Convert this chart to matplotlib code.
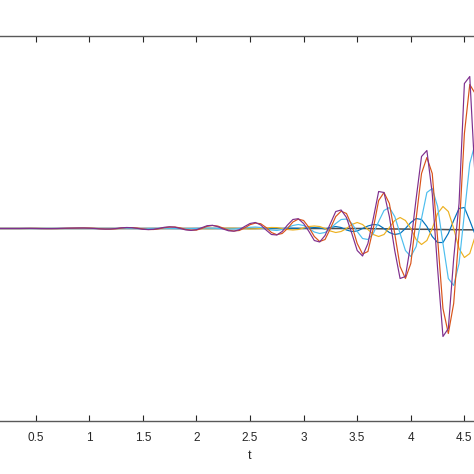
import numpy as np, matplotlib
matplotlib.use("Agg"); import matplotlib.pyplot as plt

plt.rcParams["font.family"] = ["Liberation Sans", "DejaVu Sans"]

# time grid of the samples
t = np.round(np.arange(0, 4.6001, 0.05), 2)

purple = [0, 0, 0, 0, 0, 0, 0, 0,
          0.1, 0.1, 0, -0.1, -0.1, -0.1, 0, 0.2,
          0.3, 0.4, 0.5, 0.5, 0.3, 0, -0.4, -0.6,
          -0.5, 0, 0.7, 1.0, 0.8, 0.1, -0.8, -1.1,
          -0.8, 0.1, 1.2, 1.7, 1.3, 0, -1.4, -1.9,
          -1.2, 0.8, 2.8, 3.2, 1.8, -0.5, -2.3, -2.7,
          -1.2, 2, 5, 6, 3.5, -1.5, -6, -6.5,
          -3, 3.5, 9, 9.8, 5, -3, -12, -13.5,
          -7, 5, 17, 18.5, 11, -5, -22, -27.5,
          -15, 10, 37, 36, 12, -22, -50, -48,
          -15, 30, 72, 78, 35, -40, -108, -100,
          -30, 25, 145, 152, 50]
orange = [0, 0, 0, 0, 0, 0, 0, 0,
          0, 0.1, 0.1, 0, -0.1, -0.1, -0.1, 0,
          0.2, 0.3, 0.4, 0.5, 0.4, 0.2, -0.2, -0.5,
          -0.6, -0.3, 0.4, 0.9, 0.9, 0.4, -0.4, -1.0,
          -1.0, -0.3, 0.8, 1.5, 1.5, 0.6, -0.9, -1.7,
          -1.6, 0, 2.2, 3.0, 2.4, 0.4, -1.7, -2.5,
          -2, 0.5, 3.8, 5.4, 4.8, 1, -4, -6.2,
          -5, 0, 6.5, 9.4, 8, 1, -8, -13,
          -11, 0, 12, 17.3, 15, 3, -15, -25.5,
          -23, 0, 28, 36, 25, -5, -38, -50,
          -35, 10, 55, 71, 55, -10, -80, -105,
          -75, -5, 95, 144, 135]
cyan = [0, 0, 0, 0, 0, 0, 0, 0,
        0, 0, 0, 0, 0, 0, 0, 0,
        0, 0, 0, 0, 0, 0, 0, 0,
        0, 0, 0.1, 0.1, 0, -0.1, -0.1, 0,
        0.1, 0.2, 0.2, 0.1, -0.1, -0.2, -0.2, -0.1,
        0.1, 0.3, 0.4, 0.3, 0, -0.3, -0.5, -0.4,
        0, 0.5, 1.2, 1.5, 1, 0, -1.5, -2,
        -1, 1, 3, 4, 3, 0, -3.5, -5,
        -4, 0, 5, 9, 9.5, 5, -3, -10,
        -11, -5, 7, 18, 21, 12, -5, -22,
        -28, -18, 10, 36, 40, 22, -15, -50,
        -57, -35, 15, 65, 85]
yellow = [0, 0, 0, 0, 0, 0, 0, 0,
          0, 0, 0, 0, 0, 0, 0, 0,
          0, 0, 0, 0, 0, 0, 0, 0,
          0, 0, 0, 0, 0, 0, 0, 0,
          0, 0, 0, 0, 0, 0, 0, 0,
          0, -0.1, -0.2, -0.1, 0, 0.2, 0.3, 0.3,
          0.1, -0.2, -0.4, -0.3, 0, 0.6, 1, 0.9,
          0, -1, -1.5, -1, 0.5, 2, 2.5, 2,
          0, -2.5, -4, -3, 0, 4, 6, 4,
          -1, -6, -8, -6, 1, 8, 11, 8,
          0, -11, -16, -12, 0, 15, 22, 17,
          0, -20, -29, -25, -8]
blue = [0, 0, 0, 0, 0, 0, 0, 0,
        0, 0, 0, 0, 0, 0, 0, 0,
        0, 0, 0, 0, 0, 0, 0, 0,
        0, 0, 0, 0, 0, 0, 0, 0,
        0, 0, 0, 0, 0, 0, 0, 0,
        0, 0, 0, 0, 0, 0, 0, 0,
        0, 0, 0, 0, 0, 0, 0, 0,
        0, 0.2, 0.3, 0.2, 0, 0.5, 1, 0.5,
        -0.5, 1, 2, 1, -1.5, -3, -2.5, 0,
        2.5, 4, 3.5, 0, -4, -6, -5, 0,
        6, 10, 9, 2, -8, -14, -14, -5,
        8, 20, 21, 8, -6]
gray = [0, 0, 0, 0, 0, 0, 0, 0,
        0, 0, 0, 0, 0, 0, 0, 0,
        0, 0, 0, 0, 0, 0, 0, 0,
        0, 0, 0, 0, 0, 0, 0, 0,
        0, 0, 0, 0, 0, 0, 0, 0,
        0, 0, 0, 0, 0, 0, 0, 0,
        0, 0, 0, 0, 0, 0, 0, 0,
        0, 0, 0, 0, 0, 0, 0, 0,
        0, 0, 0, 0, 0, 0, 0, 0,
        0, -0.2, -0.3, -0.3, -0.4, -0.5, -0.5, -0.6,
        -0.6, -0.7, -0.8, -0.8, -0.9, -1, -1, -1.1,
        -1.1, -1.2, -1.3, -1.3, -1.4]

xticks = [0, 0.5, 1, 1.5, 2, 2.5, 3, 3.5, 4, 4.5, 5]
xticklabels = ["", "0.5", "1", "1.5", "2", "2.5", "3", "3.5", "4", "4.5", ""]

fig = plt.figure(figsize=(4.74, 4.74), dpi=100)
ax = fig.add_axes([-18/474, 53/474, 536/474, 385/474])
lw = 0.85
ax.plot(t, gray, color=(0.3, 0.3, 0.3), lw=1.1)
ax.plot(t, blue, color=(0, 0.447, 0.741), lw=lw)
ax.plot(t, yellow, color=(0.929, 0.694, 0.125), lw=lw)
ax.plot(t, cyan, color=(0.301, 0.745, 0.933), lw=lw)
ax.plot(t, orange, color=(0.85, 0.325, 0.098), lw=lw)
ax.plot(t, purple, color=(0.494, 0.184, 0.556), lw=lw)

ax.set_xlim(0, 5)
ax.set_ylim(-192.5, 192.5)
ax.set_xticks(xticks)
ax.set_xticklabels(xticklabels)
ax.set_yticks([])
ax.tick_params(axis="x", direction="in", top=True, length=4, width=0.8,
               colors=(0.15, 0.15, 0.15), labelsize=8.5, pad=8)
for s in ax.spines.values():
    s.set_color((0.35, 0.35, 0.35)); s.set_linewidth(1.0)
ax.set_xlabel("t", fontsize=9, color=(0.15, 0.15, 0.15), labelpad=4)
fig.savefig("out.png", dpi=100)
